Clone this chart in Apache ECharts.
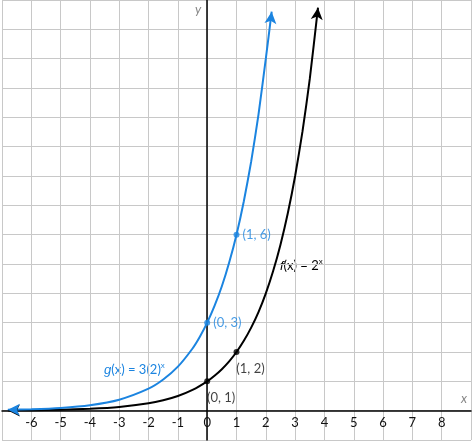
<!DOCTYPE html><html><head><meta charset="utf-8"><script src="https://cdn.jsdelivr.net/npm/echarts@6/dist/echarts.min.js"></script>
<style>body{margin:0}#c{width:474px;height:444px}</style></head><body><div id="c"></div><script>
const xTicks=[-6,-5,-4,-3,-2,-1,1,2,3,4,5,6,7,8];
const yTicks=[1,2,3,4,5,6,7,8,9,10,11,12,13];
const fX=[-6.8,-6,-5,-4,-3,-2,-1.5,-1,-0.5,0,0.25,0.5,0.75,1,1.25,1.5,1.75,2,2.25,2.5,2.75,3,3.25,3.5,3.78];
const fY=[0.009,0.016,0.031,0.063,0.125,0.25,0.354,0.5,0.707,1,1.19,1.414,1.68,2,2.38,2.83,3.36,4,4.76,5.66,6.73,8,9.51,11.31,13.74];
const gX=[-6.8,-6,-5,-4,-3,-2,-1.5,-1,-0.5,-0.25,0,0.25,0.5,0.75,1,1.25,1.5,1.75,2,2.2];
const gY=[0.027,0.047,0.094,0.1875,0.375,0.75,1.06,1.5,2.12,2.52,3,3.57,4.24,5.05,6,7.14,8.49,10.09,12,13.6];
const fPts=[[0,1,'(0, 1)'],[1,2,'(1, 2)']];
const gPts=[[0,3,'(0, 3)'],[1,6,'(1, 6)']];
const BLUE='#1b84e0';
function mk(xs,ys){return xs.map((x,i)=>{const d={value:[x,ys[i]]};
 if(i===0){d.symbol='arrow';d.symbolSize=[9,12];d.symbolRotate=90;}
 else if(i===xs.length-1){d.symbol='arrow';d.symbolSize=[9,12];d.symbolRotate=-6;}
 return d;});}
const c=echarts.init(document.getElementById('c'));
c.setOption({animation:false,
grid:{left:2,right:3,top:0,bottom:4,outerBoundsMode:'none',containLabel:false},
xAxis:{type:'value',min:-7,max:9,interval:1,axisLine:{onZero:true,lineStyle:{color:'#000',width:1.5}},axisTick:{show:false},
 splitLine:{lineStyle:{color:'#c8c8c8'}},axisLabel:{formatter:v=>xTicks.includes(v)?String(v):(v===0?'0':''),color:'#111',fontSize:13,fontFamily:'Lato',margin:-24}},
yAxis:{type:'value',min:-1,max:14,interval:1,axisLine:{onZero:true,lineStyle:{color:'#000',width:1.5}},axisTick:{show:false},
 splitLine:{lineStyle:{color:'#c8c8c8'}},axisLabel:{formatter:v=>yTicks.includes(v)?String(v):'',color:'#111',fontSize:13,fontFamily:'Lato',inside:true,margin:-22,verticalAlign:'middle'}},
series:[
{type:'line',smooth:0.2,showSymbol:true,symbol:'none',data:mk(fX,fY),lineStyle:{color:'#000',width:2},itemStyle:{color:'#000'}},
{type:'line',smooth:0.2,showSymbol:true,symbol:'none',data:mk(gX,gY),lineStyle:{color:BLUE,width:2},itemStyle:{color:BLUE}},
{type:'scatter',symbolSize:6,itemStyle:{color:'#000'},data:fPts,label:{show:true,formatter:p=>p.data[2],position:'bottom',offset:[14,2],color:'#111',fontSize:13,fontFamily:'Lato'}},
{type:'scatter',symbolSize:6,itemStyle:{color:BLUE},data:gPts,label:{show:true,formatter:p=>p.data[2],position:'right',offset:[-2,0],color:BLUE,fontSize:13,fontFamily:'Lato'}}
],
graphic:[
{type:'text',left:280,top:258,style:{text:'{i|f}(x) = 2{s|x}',rich:{i:{fontStyle:'italic',fontSize:13},s:{fontSize:8,verticalAlign:'top',padding:[0,0,8,0]}},fill:'#000',fontSize:13,fontFamily:'Lato'}},
{type:'text',left:104,top:362,style:{text:'{i|g}(x) = 3(2){s|x}',rich:{i:{fontStyle:'italic',fontSize:13,fill:BLUE},s:{fontSize:8,fill:BLUE,padding:[0,0,8,0]}},fill:BLUE,fontSize:13,fontFamily:'Lato'}},
{type:'text',left:195,top:3,style:{text:'y',fill:'#888',fontStyle:'italic',fontSize:13,fontFamily:'Lato'}},
{type:'text',left:461,top:392,style:{text:'x',fill:'#888',fontStyle:'italic',fontSize:13,fontFamily:'Lato'}}
]});
</script></body></html>
